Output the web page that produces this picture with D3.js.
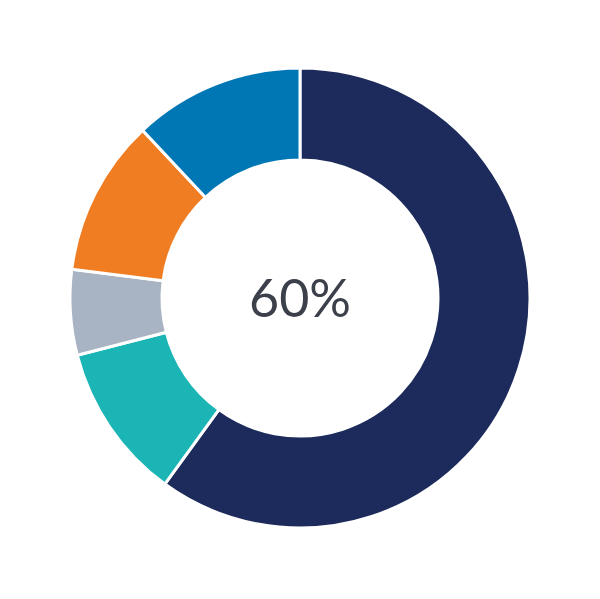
<!DOCTYPE html>
<html><head><meta charset="utf-8">
<script src="https://cdn.jsdelivr.net/npm/d3@7"></script>
<style>html,body{margin:0;padding:0;background:#fff;}</style>
</head><body>
<svg id="chart" width="600" height="599"></svg>
<script>
const categories = ["A", "B", "C", "D", "E"];
const values = [60, 11, 6, 11, 12];
const colors = ["#1c2b5b", "#1bb5b6", "#a8b3c3", "#f17d22", "#0077b5"];
const centerLabel = "60%";

const svg = d3.select("#chart");
const g = svg.append("g").attr("transform", "translate(300,298)");
const data = categories.map((c, i) => ({cat: c, value: values[i], color: colors[i]}));
const pie = d3.pie().value(d => d.value).sort(null);
const arc = d3.arc().innerRadius(138).outerRadius(230);
g.selectAll("path").data(pie(data)).join("path")
  .attr("d", arc)
  .attr("fill", d => d.data.color)
  .attr("stroke", "#fff")
  .attr("stroke-width", 3)
  .attr("stroke-linejoin", "miter");
g.append("text").text(centerLabel)
  .attr("text-anchor", "middle")
  .attr("dy", "0.36em")
  .attr("font-family", "Lato, sans-serif")
  .attr("font-size", 52)
  .attr("fill", "#3b404b");
</script>
</body></html>
